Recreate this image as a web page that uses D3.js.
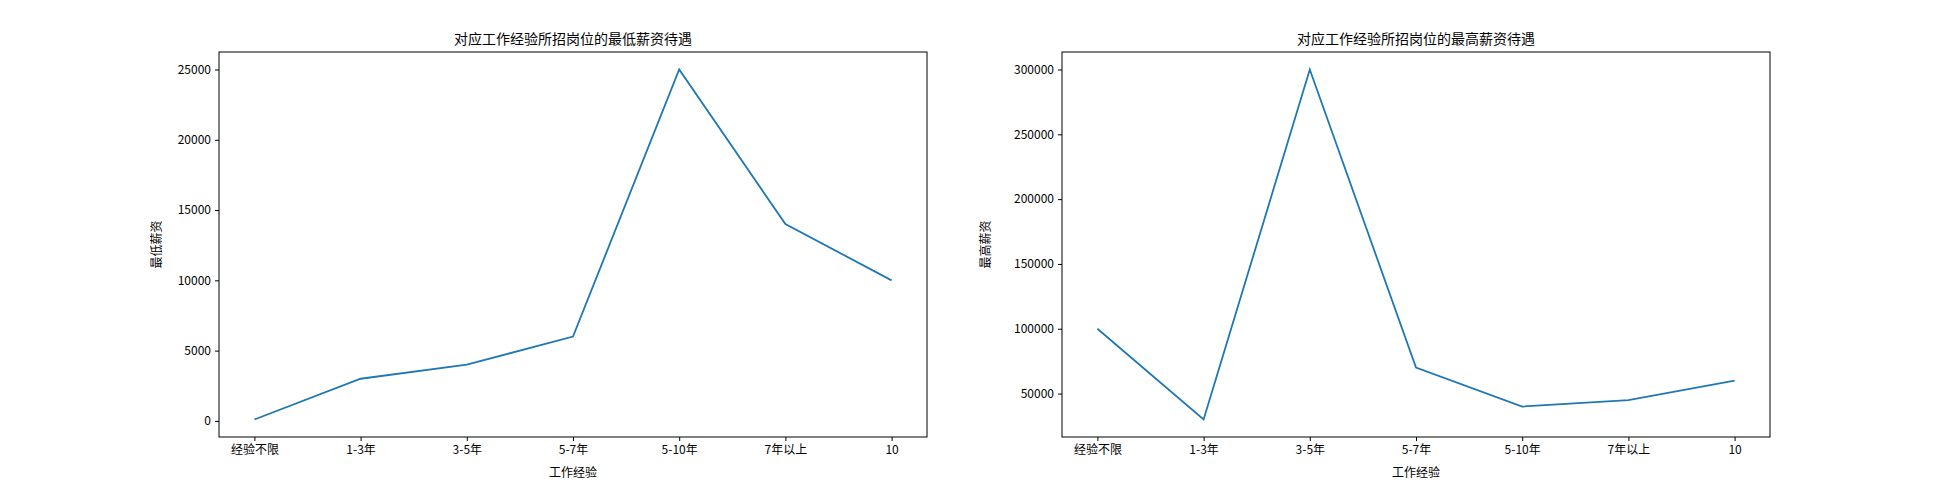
<!DOCTYPE html><html><head><meta charset="utf-8"><script src="https://cdn.jsdelivr.net/npm/d3@7"></script>
<style>body{margin:0;background:#fff}text{font-family:"Noto Sans CJK SC",sans-serif;fill:#000}</style></head><body>
<svg id="c" width="1943" height="491"></svg>
<script>
const categories=["经验不限","1-3年","3-5年","5-7年","5-10年","7年以上","10"];
const minSalary=[100,3000,4000,6000,25000,14000,10000];
const maxSalary=[100000,30000,300000,70000,40000,45000,60000];
const minTicks=[0,5000,10000,15000,20000,25000];
const maxTicks=[50000,100000,150000,200000,250000,300000];
const panels=[
 {x0:219,x1:927,vals:minSalary,ticks:minTicks,title:"对应工作经验所招岗位的最低薪资待遇",ylab:"最低薪资"},
 {x0:1062,x1:1770,vals:maxSalary,ticks:maxTicks,title:"对应工作经验所招岗位的最高薪资待遇",ylab:"最高薪资"}];
const svg=d3.select("#c"),y0=52,y1=437;
panels.forEach(p=>{
 const w=p.x1-p.x0,h=y1-y0;
 const g=svg.append("g").attr("transform",`translate(${p.x0},${y0})`);
 const x=d3.scalePoint().domain(categories).range([0.05*w,0.95*w]);
 const mn=d3.min(p.vals),mx=d3.max(p.vals),pad=(mx-mn)*0.05;
 const y=d3.scaleLinear().domain([mn-pad,mx+pad]).range([h,0]);
 const xa=g.append("g").attr("transform",`translate(0,${h})`).call(d3.axisBottom(x).tickSize(4).tickPadding(4));
 const ya=g.append("g").call(d3.axisLeft(y).tickValues(p.ticks).tickFormat(d3.format("d")).tickSize(4).tickPadding(4));
 [xa,ya].forEach(a=>{a.select(".domain").remove();a.selectAll("text").style("font-size","12px").style("font-family",'"Noto Sans CJK SC",sans-serif');});
 g.append("path").datum(p.vals).attr("fill","none").attr("stroke","#1f77b4").attr("stroke-width",1.8)
  .attr("d",d3.line().x((d,i)=>x(categories[i])).y(d=>y(d)));
 g.append("rect").attr("width",w).attr("height",h).attr("fill","none").attr("stroke","#000").attr("stroke-width",1);
 g.append("text").attr("x",w/2).attr("y",-8).attr("text-anchor","middle").style("font-size","14px").text(p.title);
 g.append("text").attr("x",w/2).attr("y",h+40).attr("text-anchor","middle").style("font-size","12px").text("工作经验");
 const yl=p.vals===minSalary?-58:-72;
 g.append("text").attr("transform",`translate(${yl},${h/2}) rotate(-90)`).attr("text-anchor","middle").style("font-size","12px").text(p.ylab);
});
</script></body></html>
